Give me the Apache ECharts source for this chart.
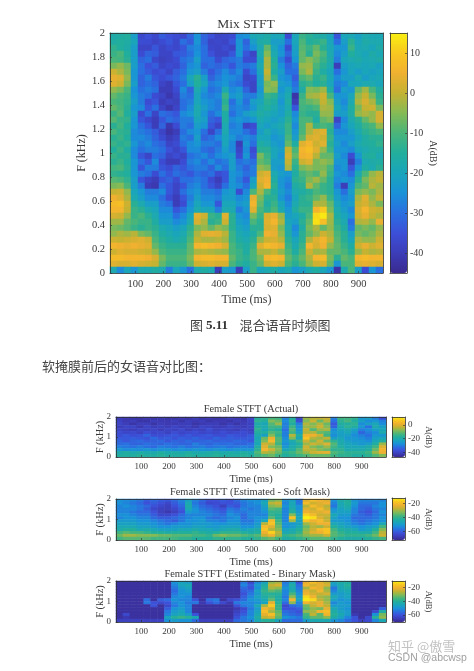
<!DOCTYPE html>
<html lang="zh-CN" style="height: 100%">
<head>
  <meta charset="utf-8">
</head>
<body style="height: 100%; margin: 0; background: #fff">
  <div id="container" style="width: 474px; height: 671px; filter: blur(0.4px)"></div>
  <script type="text/javascript" src="https://cdn.jsdelivr.net/npm/echarts@6/dist/echarts.min.js"></script>
  <script type="text/javascript">

    // time bins (start of each 25 ms frame)
    var timeBins = [9,34,59,84,109,134,159,184,209,234,259,284,309,334,359,384,409,434,459,484,509,534,559,584,609,634,659,684,709,734,759,784,809,834,859,884,909,934,959];
    var timeTicks = [100,200,300,400,500,600,700,800,900];

    var mixBarTicks = [-40,-30,-20,-10,0,10];
    var actualBarTicks = [-40,-20,0];
    var softBarTicks = [-60,-40,-20];
    var binaryBarTicks = [-60,-40,-20];

    // all matrices are in dB, top row = highest frequency
    var mixValues = [
      [-17,-16,-15,-22,-37,-35,-37,-33,-35,-36,-37,-32,-25,-32,-35,-38,-37,-36,-26,-25,-19,-18,-17,-20,-19,-36,-20,-12,-14,-16,-17,-20,-34,-20,-19,-21,-18,-19,-19],
      [-16,-15,-16,-20,-36,-36,-38,-36,-34,-37,-30,-33,-24,-32,-38,-37,-38,-34,-24,-32,-22,-17,-16,-22,-22,-30,-20,-10,-15,-14,-12,-20,-30,-22,-14,-20,-17,-18,-18],
      [-13,-15,-17,-22,-38,-38,-34,-38,-36,-37,-34,-28,-26,-30,-37,-38,-36,-38,-24,-30,-25,-19,-8,-20,-25,-36,-21,-9,-12,-8,-14,-19,-24,-24,-12,-19,-18,-20,-17],
      [-12,-10,-15,-22,-36,-32,-33,-38,-38,-34,-33,-30,-25,-30,-35,-38,-38,-34,-24,-34,-38,-18,-5,-18,-24,-32,-22,-8,-14,-6,-10,-18,-26,-22,-15,-18,-20,-17,-19],
      [-10,-11,-14,-22,-32,-30,-37,-39,-38,-36,-30,-28,-22,-30,-30,-36,-32,-30,-28,-36,-36,-20,-2,-15,-28,-36,-24,-8,-5,-8,-12,-17,-28,-20,-18,-17,-19,-18,-17],
      [-6,-4,-7,-22,-30,-35,-33,-38,-36,-37,-32,-26,-24,-32,-30,-32,-30,-34,-28,-30,-28,-18,-2,-14,-25,-32,-28,-4,-3,-10,-14,-18,-40,-22,-20,-19,-20,-19,-21],
      [1,-2,-6,-24,-30,-33,-36,-35,-38,-33,-30,-24,-22,-28,-34,-30,-26,-30,-26,-36,-30,-20,0,-16,-22,-30,-30,-6,-2,-12,-16,-20,-30,-24,-20,-22,-20,-21,-20],
      [4,3,-4,-24,-32,-28,-34,-36,-34,-32,-28,-20,-14,-22,-32,-28,-25,-26,-28,-38,-36,-22,-2,-12,-24,-26,-33,-10,-8,-14,-12,-19,-26,-22,-22,-18,-22,-20,-19],
      [3,1,-6,-22,-32,-30,-32,-38,-40,-34,-30,-22,-15,-20,-28,-26,-24,-28,-30,-36,-38,-22,-6,-4,-22,-24,-30,-14,-12,-15,-14,-20,-28,-26,-20,-20,-18,-18,-20],
      [-4,-6,-10,-25,-30,-28,-30,-40,-40,-36,-26,-32,-18,-24,-30,-28,-18,-26,-24,-32,-38,-24,-5,-6,-24,-20,-28,-16,-5,-6,-3,-16,-30,-22,-24,-8,-3,-10,-16],
      [-8,-10,-12,-24,-28,-30,-36,-38,-41,-38,-28,-30,-20,-26,-28,-26,-12,-24,-22,-28,-28,-22,-12,-14,-22,-18,-42,-12,-3,-2,1,-10,-24,-24,-20,-4,0,-6,-14],
      [-10,-11,-13,-22,-28,-36,-34,-40,-38,-39,-30,-28,-20,-24,-26,-28,-14,-30,-24,-30,-22,-20,-14,-16,-24,-16,-40,-10,-8,-6,0,-5,-22,-26,-18,-2,2,-2,-12],
      [-8,-10,-14,-24,-26,-34,-30,-38,-41,-38,-30,-26,-18,-22,-26,-28,-12,-28,-26,-28,-24,-18,-15,-18,-22,-18,-34,-11,-12,-10,-2,-3,-20,-24,-16,-6,0,1,-6],
      [-12,-9,-15,-22,-36,-30,-38,-30,-32,-34,-26,-24,-18,-24,-30,-26,-16,-30,-26,-22,-20,-16,-18,-20,-22,-16,-26,-12,-14,-14,-4,-4,-22,-22,-16,-4,-2,-4,2],
      [-9,-12,-13,-24,-34,-37,-40,-34,-30,-32,-28,-28,-20,-22,-32,-34,-16,-26,-24,-26,-24,-18,-20,-22,-20,-14,-24,-10,-10,-16,-8,-6,-38,-26,-18,-14,-8,-4,2],
      [-14,-11,-15,-24,-30,-34,-40,-32,-41,-36,-28,-30,-22,-24,-34,-38,-18,-28,-26,-38,-36,-20,-22,-20,-18,-12,-26,-10,-2,-12,-10,-12,-32,-24,-20,-16,-12,-10,-4],
      [-10,-13,-14,-26,-28,-30,-33,-38,-42,-40,-30,-26,-24,-30,-38,-30,-18,-26,-26,-30,-34,-22,-18,-22,-20,-12,-24,-10,-2,2,3,-14,-26,-26,-22,-18,-14,-12,-10],
      [-14,-12,-15,-26,-26,-28,-32,-36,-40,-38,-28,-30,-22,-32,-30,-26,-20,-24,-28,-26,-28,-20,-20,-24,-22,-10,-22,-8,2,3,1,-12,-24,-24,-24,-20,-16,-14,-14],
      [-12,-14,-13,-24,-28,-26,-30,-32,-38,-36,-30,-26,-24,-28,-28,-30,-20,-26,-40,-24,-30,-16,-18,-22,-24,-8,-16,3,6,1,3,-14,-22,-26,-22,-18,-16,-15,-13],
      [-15,-12,-16,-26,-30,-28,-28,-30,-35,-38,-34,-26,-26,-30,-32,-28,-22,-26,-38,-26,-36,-14,-14,-20,-22,0,-10,6,8,3,-4,-12,-24,-24,-26,-20,-18,-16,-16],
      [-12,-14,-14,-26,-34,-38,-30,-32,-38,-36,-38,-30,-28,-26,-30,-26,-24,-22,-36,-24,-34,-6,-12,-20,-24,2,-8,5,6,-1,-8,-8,-22,-26,-36,-24,-16,-15,-18],
      [-14,-12,-15,-24,-30,-34,-26,-36,-40,-40,-36,-28,-26,-30,-26,-30,-28,-22,-30,-28,-30,-8,-10,-22,-22,0,-12,1,3,-6,-4,-6,-24,-24,-40,-28,-18,-17,-16],
      [-11,-10,-14,-24,-34,-28,-28,-34,-36,-32,-34,-30,-28,-28,-32,-26,-30,-22,-28,-32,-28,-4,-6,-22,-24,-2,-14,-6,-4,-6,-6,-10,-26,-24,-34,-24,-16,-18,-14],
      [-13,-14,-15,-24,-28,-30,-36,-30,-34,-30,-32,-34,-30,-32,-30,-36,-34,-24,-26,-30,-28,1,3,-18,-22,-24,-16,-10,-8,-10,-4,-12,-24,-26,-30,-18,-10,-4,-1],
      [-9,-10,-13,-22,-34,-38,-40,-34,-32,-36,-30,-30,-28,-30,-36,-40,-34,-24,-28,-34,-22,3,5,-16,-24,-26,-14,-12,-6,-3,-8,-14,-26,-24,-26,-14,-6,-2,0],
      [-6,-5,-10,-22,-28,-40,-41,-30,-34,-38,-34,-28,-26,-30,-34,-38,-30,-24,-26,-30,-20,1,6,-14,-24,-28,-16,-14,-2,-8,-12,-14,-28,-40,-24,-10,-8,-1,-3],
      [0,1,-4,-20,-24,-28,-28,-26,-34,-38,-30,-26,-24,-28,-28,-30,-24,-22,-36,-26,-10,-2,-10,-16,-22,-26,-18,-16,-14,-10,-12,-14,-24,-30,-22,-6,-4,-6,-2],
      [5,3,-2,-18,-22,-26,-26,-30,-36,-40,-34,-28,-22,-26,-26,-28,-22,-22,-26,-24,4,-6,-14,-14,-24,-28,-20,-14,-12,-8,-4,-12,-22,-26,-24,-2,3,-4,0],
      [7,8,1,-14,-18,-22,-22,-28,-30,-40,-36,-26,-20,-24,-24,-34,-20,-20,-24,-22,6,-8,-16,-12,-20,-26,-18,-14,-14,-2,-2,-8,-20,-24,-22,0,2,-2,-6],
      [6,6,0,-12,-14,-18,-20,-26,-26,-34,-30,-24,-18,-20,-20,-28,-18,-18,-28,-24,3,-10,-14,-10,-18,-24,-16,-12,-12,6,10,-6,-18,-22,-26,2,6,1,0],
      [2,1,-4,-12,-10,-14,-18,-24,-24,-30,-26,-20,3,1,-12,-14,3,-14,-24,-26,-6,-12,2,4,-4,-22,-20,-16,-10,12,14,-2,-16,-20,-24,1,4,0,-2],
      [-3,-3,-8,-10,-12,-12,-16,-22,-22,-26,-24,-18,2,-2,-14,-12,1,-14,-22,-24,-10,-14,3,6,-2,-20,-22,-14,-8,13,8,-3,-14,-18,-30,-2,-1,-4,4],
      [-6,-7,-9,-12,-14,-12,-14,-18,-20,-22,-20,-14,-6,-4,-8,-4,-6,-14,-20,-22,-14,-14,2,3,-6,-18,-26,-16,-6,-2,-8,-4,-12,-16,-28,-8,-6,-8,-4],
      [-4,-2,-3,-1,-6,-8,-12,-16,-18,-20,-18,-12,-2,3,4,3,-1,-12,-18,-20,-16,-10,5,4,-4,-16,-24,-14,-8,-4,1,-2,-10,-14,-22,-6,-8,-6,-2],
      [1,0,1,2,3,1,-10,-14,-16,-18,-16,-10,0,-2,-2,-1,-3,-12,-16,-18,-14,-4,1,2,-1,-14,-20,-14,-2,3,6,0,-9,-14,-20,-2,-4,-4,1],
      [6,5,4,5,4,3,-8,-12,-14,-14,-14,-8,6,7,6,5,2,-10,-14,-16,-12,3,7,6,4,-12,-18,-12,6,2,5,-4,-8,-12,-16,1,4,1,3],
      [1,3,2,2,1,0,-4,-10,-12,-12,-12,-8,-2,-1,-2,-3,-4,-10,-12,-16,-10,-2,-2,0,-4,-10,-16,-10,1,-3,-2,-8,-8,-10,-14,-4,0,-2,-1],
      [7,7,6,6,6,5,2,-6,-10,-10,-10,-6,6,7,7,6,6,-8,-12,-14,-10,-6,6,7,6,-8,-12,-8,-2,6,7,-6,-14,-8,-10,6,7,6,6],
      [3,2,2,3,2,1,0,-8,-12,-12,-12,-8,1,2,3,2,2,-10,-14,-16,-12,-8,1,3,1,-10,-14,-10,-4,1,2,-8,-24,-10,-10,3,4,3,2],
      [-18,-26,-20,-24,-18,-18,-16,-18,-28,-20,-24,-30,-18,-16,-18,-40,-22,-24,-40,-22,-12,-20,-18,-16,-20,-18,-24,-22,-18,-16,-20,-24,-42,-18,-10,-22,-36,-24,-30]
    ];

    var actualValues = [
      [-42,-43,-44,-44,-43,-44,-43,-44,-44,-43,-44,-42,-44,-43,-44,-44,-42,-43,-44,-40,-18,-16,-13,-14,-30,-18,-40,-6,-4,-3,-2,-30,-14,-14,-16,-26,-24,-30,-38],
      [-41,-43,-42,-44,-44,-42,-43,-43,-42,-44,-42,-43,-42,-44,-43,-43,-44,-42,-43,-40,-16,-18,-8,-10,-28,-16,-38,-8,-2,-10,-4,-32,-16,-13,-18,-24,-28,-26,-30],
      [-40,-42,-44,-42,-42,-44,-42,-43,-43,-42,-42,-44,-43,-42,-42,-44,-42,-44,-42,-41,-20,-22,-12,-6,-30,-18,-30,-4,-8,-4,-10,-36,-18,-18,-16,-28,-24,-22,-28],
      [-42,-40,-40,-43,-40,-42,-41,-42,-40,-42,-41,-43,-40,-41,-42,-42,-40,-41,-42,-40,-18,-20,-14,-14,-30,-14,-28,-6,-6,-2,-8,-34,-20,-16,-18,-26,-32,-20,-24],
      [-40,-41,-42,-40,-41,-40,-42,-40,-41,-39,-42,-40,-41,-38,-41,-40,-41,-42,-40,-41,-16,-22,-16,-18,-32,-12,-26,-3,-12,-6,-5,-28,-22,-20,-24,-30,-28,-24,-22],
      [-38,-40,-39,-41,-38,-40,-39,-41,-38,-40,-39,-38,-40,-39,-40,-38,-40,-39,-38,-40,-18,-18,-12,-14,-30,-14,-24,-4,-4,-10,-12,-26,-24,-22,-26,-34,-30,-28,-20],
      [-38,-36,-38,-37,-34,-38,-38,-37,-36,-38,-36,-38,-37,-36,-38,-38,-36,-37,-38,-36,-20,-24,-8,-16,-30,-4,-18,3,2,-2,-14,-28,-24,-24,-28,-30,-32,-26,-26],
      [-36,-36,-35,-36,-37,-33,-36,-35,-37,-35,-36,-34,-36,-37,-34,-36,-35,-36,-36,-35,-22,-10,2,-12,-28,-8,-22,6,-4,-6,-3,-24,-22,-26,-26,-28,-30,-24,-22],
      [-34,-36,-34,-33,-35,-34,-33,-36,-34,-35,-33,-35,-34,-33,-35,-34,-35,-33,-34,-36,-20,-8,4,-12,-26,-20,-14,-2,-8,-2,-10,-16,-20,-24,-26,-26,-28,-22,-18],
      [-33,-32,-34,-34,-32,-33,-34,-32,-33,-34,-34,-30,-33,-34,-32,-33,-32,-34,-34,-32,-22,-2,-4,-14,-28,-22,-18,-6,-2,-4,0,-12,-20,-22,-24,-26,-24,-18,-6],
      [-30,-31,-32,-30,-32,-33,-30,-31,-32,-30,-32,-31,-30,-32,-31,-30,-32,-31,-30,-31,-18,0,-8,-10,-26,-20,-16,-2,-8,-10,-6,-14,-18,-22,-22,-22,-20,-14,0],
      [-26,-28,-27,-28,-26,-28,-27,-26,-28,-27,-28,-26,-27,-28,-26,-27,-28,-26,-27,-26,-16,3,-2,-8,-22,-18,-12,-3,-4,-8,-10,-16,-16,-20,-20,-20,-18,-10,3],
      [-20,-18,-20,-19,-20,-20,-18,-20,-19,-20,-18,-20,-20,-19,-18,-20,-19,-20,-18,-20,-12,-4,-6,-10,-16,-14,-10,-6,-2,0,1,-12,-14,-16,-16,-16,-14,-6,2],
      [-18,-18,-18,-17,-18,-18,-17,-18,-18,-18,-17,-18,-18,-18,-17,-18,-18,-18,-17,-18,-14,-12,-10,-14,-18,-16,-14,-12,-10,-10,-10,-14,-16,-16,-18,-18,-16,-12,-8]
    ];

    var softValues = [
      [-52,-53,-54,-56,-60,-58,-60,-61,-58,-54,-48,-54,-58,-62,-62,-60,-62,-58,-54,-52,-52,-48,-34,-32,-52,-48,-56,-24,-20,-22,-24,-52,-44,-42,-52,-54,-54,-54,-54],
      [-52,-54,-56,-58,-62,-60,-62,-64,-60,-56,-46,-56,-60,-64,-63,-62,-62,-60,-56,-54,-52,-46,-28,-26,-54,-46,-56,-20,-26,-24,-22,-54,-46,-42,-50,-56,-56,-56,-52],
      [-54,-52,-54,-56,-58,-62,-64,-66,-62,-58,-44,-54,-58,-60,-62,-66,-60,-62,-56,-54,-54,-48,-32,-30,-52,-46,-52,-28,-20,-24,-28,-56,-46,-44,-52,-58,-58,-54,-52],
      [-54,-54,-54,-56,-60,-64,-66,-66,-64,-60,-46,-52,-56,-58,-60,-62,-56,-58,-54,-56,-54,-50,-36,-38,-54,-44,-52,-24,-26,-20,-26,-52,-48,-46,-54,-58,-60,-56,-54],
      [-54,-54,-56,-58,-58,-62,-66,-68,-66,-62,-50,-52,-54,-56,-58,-60,-54,-56,-56,-54,-54,-52,-40,-40,-54,-42,-50,-22,-24,-24,-22,-50,-48,-48,-54,-60,-62,-58,-52],
      [-52,-52,-54,-56,-56,-60,-64,-64,-62,-58,-54,-54,-54,-54,-56,-58,-52,-54,-58,-54,-54,-54,-40,-42,-54,-32,-48,-16,-20,-26,-26,-46,-50,-50,-56,-58,-60,-56,-54],
      [-54,-52,-52,-54,-54,-58,-60,-60,-58,-56,-54,-52,-52,-56,-58,-56,-54,-52,-58,-54,-52,-52,-36,-42,-54,-18,-46,-12,-14,-24,-28,-48,-52,-52,-58,-58,-58,-56,-52],
      [-50,-50,-50,-52,-52,-54,-56,-58,-60,-56,-52,-52,-50,-54,-54,-56,-52,-52,-56,-56,-52,-46,-20,-38,-54,-30,-48,-18,-22,-20,-26,-50,-50,-52,-56,-58,-56,-54,-52],
      [-48,-48,-48,-50,-50,-52,-54,-56,-54,-52,-52,-50,-50,-50,-52,-52,-50,-50,-54,-54,-50,-28,-18,-36,-52,-50,-48,-30,-26,-22,-22,-46,-48,-50,-54,-56,-54,-52,-46],
      [-46,-46,-46,-48,-48,-50,-52,-52,-50,-50,-50,-48,-48,-50,-50,-48,-48,-48,-52,-52,-48,-20,-24,-34,-52,-50,-46,-34,-28,-30,-26,-42,-46,-48,-50,-52,-50,-48,-38],
      [-44,-42,-42,-46,-44,-46,-48,-48,-48,-46,-46,-44,-46,-46,-48,-46,-44,-44,-48,-46,-44,-18,-28,-32,-48,-46,-42,-32,-26,-20,-18,-38,-42,-44,-46,-50,-48,-42,-32],
      [-38,-36,-38,-38,-40,-42,-42,-44,-42,-42,-42,-40,-42,-44,-42,-40,-40,-40,-42,-44,-42,-22,-16,-28,-46,-44,-40,-30,-24,-22,-18,-36,-40,-42,-42,-44,-44,-38,-28],
      [-34,-30,-30,-32,-32,-32,-34,-34,-36,-36,-36,-38,-38,-40,-34,-32,-34,-34,-36,-38,-36,-26,-22,-30,-40,-38,-36,-32,-30,-30,-26,-36,-38,-40,-40,-40,-38,-34,-26],
      [-38,-36,-36,-36,-36,-38,-38,-38,-38,-40,-40,-42,-42,-42,-40,-40,-40,-40,-42,-42,-40,-36,-34,-38,-44,-42,-40,-38,-36,-36,-36,-40,-42,-44,-44,-44,-42,-40,-38]
    ];

    var binaryValues = [
      [-68,-68,-68,-68,-68,-68,-68,-68,-50,-46,-48,-68,-68,-68,-68,-68,-68,-68,-54,-62,-52,-46,-30,-28,-54,-46,-60,-22,-18,-22,-26,-46,-42,-42,-68,-68,-68,-68,-68],
      [-68,-68,-68,-68,-68,-68,-68,-68,-52,-46,-44,-68,-68,-68,-68,-68,-68,-68,-52,-58,-48,-42,-26,-24,-52,-42,-56,-20,-24,-22,-24,-48,-44,-40,-68,-68,-68,-68,-68],
      [-68,-68,-68,-68,-68,-68,-68,-68,-54,-48,-46,-68,-68,-68,-68,-68,-68,-68,-56,-60,-50,-40,-28,-30,-50,-44,-54,-28,-20,-22,-30,-54,-44,-42,-68,-68,-68,-68,-68],
      [-68,-68,-68,-68,-68,-68,-68,-68,-56,-50,-48,-68,-68,-68,-68,-68,-68,-68,-58,-56,-46,-38,-34,-36,-52,-42,-52,-22,-26,-20,-28,-52,-46,-44,-68,-68,-68,-68,-68],
      [-68,-68,-68,-68,-68,-68,-68,-68,-54,-50,-50,-68,-68,-68,-68,-68,-68,-68,-60,-54,-48,-40,-40,-40,-52,-36,-50,-20,-24,-26,-24,-48,-48,-46,-68,-68,-68,-68,-68],
      [-68,-68,-68,-68,-68,-68,-68,-68,-52,-50,-52,-68,-68,-68,-68,-68,-68,-68,-58,-52,-46,-42,-38,-42,-54,-30,-48,-14,-20,-28,-30,-44,-48,-46,-68,-68,-68,-68,-68],
      [-68,-68,-68,-68,-56,-68,-58,-56,-50,-52,-52,-60,-68,-56,-54,-68,-62,-60,-56,-50,-48,-44,-34,-42,-52,-20,-46,-12,-14,-26,-30,-46,-50,-48,-68,-68,-68,-68,-68],
      [-68,-68,-68,-68,-54,-60,-62,-60,-52,-50,-54,-54,-66,-60,-56,-62,-66,-54,-52,-52,-50,-46,-22,-40,-56,-30,-52,-20,-24,-22,-28,-52,-48,-50,-68,-68,-68,-68,-68],
      [-68,-68,-68,-68,-68,-60,-68,-62,-54,-50,-52,-68,-68,-68,-68,-68,-68,-60,-54,-52,-44,-28,-16,-38,-62,-56,-54,-32,-26,-22,-26,-48,-48,-48,-68,-68,-68,-68,-68],
      [-68,-68,-68,-68,-68,-68,-68,-58,-50,-48,-52,-68,-68,-68,-68,-68,-68,-66,-62,-54,-48,-20,-24,-38,-60,-60,-58,-34,-30,-32,-22,-44,-48,-50,-68,-68,-68,-68,-58],
      [-68,-68,-68,-68,-68,-68,-68,-54,-48,-46,-52,-68,-68,-68,-68,-68,-68,-64,-60,-52,-46,-18,-28,-34,-56,-58,-60,-30,-28,-20,-18,-42,-46,-48,-68,-68,-68,-62,-42],
      [-68,-62,-68,-68,-68,-68,-68,-52,-46,-44,-48,-60,-68,-68,-68,-68,-68,-62,-58,-52,-44,-22,-18,-32,-54,-56,-58,-36,-26,-34,-20,-40,-44,-48,-66,-68,-68,-50,-32],
      [-68,-66,-68,-68,-68,-68,-68,-46,-40,-38,-40,-44,-68,-68,-68,-68,-68,-60,-54,-50,-42,-26,-24,-34,-50,-52,-54,-38,-34,-34,-30,-42,-46,-52,-60,-68,-62,-40,-30],
      [-64,-64,-64,-64,-64,-64,-64,-50,-48,-50,-50,-56,-64,-64,-64,-64,-64,-56,-54,-52,-44,-40,-40,-46,-56,-56,-56,-48,-44,-44,-44,-50,-52,-56,-60,-64,-62,-52,-44]
    ];

    var parula = ['#3a2a90','#3c3db8','#3c50d8','#2a6fe0','#1a92d8','#1aa5bb','#22ae9c','#4ab57a','#85ba55','#c4b232','#f0b030','#f8c820','#f9f010'];

    var serif = '"Liberation Serif", serif';
    var cjk = '"Noto Sans CJK SC", sans-serif';
    var textColor = '#3a3a3a';
    var lineColor = '#2f2f2f';

    var myChart = echarts.init(document.getElementById('container'), null, { renderer: 'canvas' });

    var option = {
      animation: false,
      backgroundColor: '#fff',
      title: [], grid: [], xAxis: [], yAxis: [], series: [], visualMap: [],
      graphic: { elements: [
        { type: 'text', left: 190, top: 319, style: {
            text: '图 {b|5.11}    混合语音时频图',
            font: '400 13px ' + cjk, fill: '#444',
            rich: { b: { font: 'bold 13px ' + serif, fill: '#333' } } } },
        { type: 'text', left: 42, top: 360, style: { text: '软掩膜前后的女语音对比图：', font: '400 13px ' + cjk, fill: '#444' } },
        { type: 'text', left: 388, top: 640, style: { text: '知乎 @傲雪', font: '400 13px ' + cjk, fill: '#c2c2c2' } },
        { type: 'text', left: 388, top: 653, style: { text: 'CSDN @abcwsp', font: '400 10.5px "Liberation Sans", sans-serif', fill: '#a0a0a0' } }
      ] }
    };

    function addPanel(p) {
      var g = option.grid.length;
      var height = p.bottom - p.top;
      var font = { fontFamily: serif, color: textColor };
      var catLine = { show: true, onZero: false, lineStyle: { color: lineColor, width: 0.8 } };

      option.title.push({
        text: p.title, left: p.titleX, top: p.titleY, textAlign: 'center', textVerticalAlign: 'middle',
        padding: 0,
        textStyle: { fontFamily: serif, fontWeight: 'normal', fontSize: p.titleSize, color: textColor }
      });

      // heatmap grid
      option.grid.push({ left: p.left, top: p.top, width: p.right - p.left, height: height });
      var rowBins = p.rows.map(function (r, i) { return i; });
      option.xAxis.push({
        gridIndex: g, type: 'category', data: timeBins, position: 'top', z: 3,
        axisLine: catLine, axisTick: { show: false }, axisLabel: { show: false }, splitLine: { show: false }
      });
      option.xAxis.push({
        gridIndex: g, type: 'value', position: 'bottom', min: p.tMin, max: p.tMax, z: 3,
        name: 'Time (ms)', nameLocation: 'middle', nameGap: p.xNameGap,
        nameTextStyle: Object.assign({ fontSize: p.nameSize }, font),
        axisLine: catLine, splitLine: { show: false },
        axisTick: { inside: true, length: 2, customValues: timeTicks, lineStyle: { color: lineColor, width: 0.6 } },
        axisLabel: Object.assign({ fontSize: p.tickSize, margin: p.xMargin, customValues: timeTicks }, font)
      });
      option.yAxis.push({
        gridIndex: g, type: 'category', data: rowBins, position: 'right', z: 3,
        axisLine: catLine, axisTick: { show: false }, axisLabel: { show: false }, splitLine: { show: false }
      });
      option.yAxis.push({
        gridIndex: g, type: 'value', position: 'left', min: 0, max: 2, interval: p.fStep, z: 3,
        name: 'F (kHz)', nameLocation: 'middle', nameGap: p.yNameGap, nameMoveOverlap: false,
        nameTextStyle: Object.assign({ fontSize: p.nameSize }, font),
        axisLine: catLine, splitLine: { show: false },
        axisTick: { inside: true, length: 2, lineStyle: { color: lineColor, width: 0.6 } },
        axisLabel: Object.assign({ fontSize: p.tickSize, margin: 5 }, font)
      });

      var cells = [];
      p.rows.forEach(function (row, i) {
        row.forEach(function (v, j) { cells.push([j, p.rows.length - 1 - i, v]); });
      });
      var seriesIndex = option.series.length;
      option.series.push({
        type: 'heatmap', data: cells, silent: true, progressive: 0,
        xAxisIndex: option.xAxis.length - 2, yAxisIndex: option.yAxis.length - 2
      });

      // colour bar: the visualMap draws the ramp, an empty grid on top carries its ticks
      option.visualMap.push({
        type: 'continuous', seriesIndex: seriesIndex, min: p.barMin, max: p.barMax,
        inRange: { color: parula }, calculable: false, realtime: false, hoverLink: false,
        left: p.barLeft, top: p.barTop, itemWidth: p.barRight - p.barLeft, itemHeight: p.barBottom - p.barTop,
        padding: 0, text: null, showLabel: false
      });
      option.grid.push({ left: p.barLeft, top: p.barTop, width: p.barRight - p.barLeft, height: p.barBottom - p.barTop });
      option.xAxis.push({
        gridIndex: g + 1, type: 'value', min: 0, max: 1, position: 'top', z: 5,
        axisLine: catLine, axisTick: { show: false }, axisLabel: { show: false }, splitLine: { show: false }
      });
      option.xAxis.push({
        gridIndex: g + 1, type: 'value', min: 0, max: 1, position: 'bottom', z: 5,
        axisLine: catLine, axisTick: { show: false }, axisLabel: { show: false }, splitLine: { show: false }
      });
      option.yAxis.push({
        gridIndex: g + 1, type: 'value', min: 0, max: 1, position: 'left', z: 5,
        axisLine: catLine, axisTick: { show: false }, axisLabel: { show: false }, splitLine: { show: false }
      });
      option.yAxis.push({
        gridIndex: g + 1, type: 'value', position: 'right', min: p.barMin, max: p.barMax, z: 5,
        name: 'A(dB)', nameLocation: 'middle', nameGap: p.barNameGap, nameRotate: -90,
        nameTextStyle: Object.assign({ fontSize: p.barNameSize }, font),
        axisLine: catLine, splitLine: { show: false },
        axisTick: { inside: true, length: 2, customValues: p.barTicks, lineStyle: { color: lineColor, width: 0.6 } },
        axisLabel: Object.assign({ fontSize: p.barTickSize, margin: 3, customValues: p.barTicks }, font)
      });
    }

    addPanel({
      title: 'Mix STFT', titleX: 246, titleY: 24, titleSize: 13.5, rows: mixValues,
      left: 110, right: 383, top: 33, bottom: 273, tMin: 9, tMax: 987, fStep: 0.2,
      tickSize: 10.5, nameSize: 12, xMargin: 6, xNameGap: 21, yNameGap: 22,
      barMin: -45, barMax: 15, barTicks: mixBarTicks, barLeft: 390, barRight: 407, barTop: 33, barBottom: 273,
      barNameGap: 19, barNameSize: 10, barTickSize: 10
    });
    addPanel({
      title: 'Female STFT (Actual)', titleX: 251, titleY: 409, titleSize: 10.4, rows: actualValues,
      left: 116, right: 386, top: 417, bottom: 457, tMin: 8, tMax: 988, fStep: 1,
      tickSize: 9, nameSize: 10.4, xMargin: 5, xNameGap: 17, yNameGap: 11,
      barMin: -47, barMax: 12, barTicks: actualBarTicks, barLeft: 392, barRight: 405, barTop: 417, barBottom: 457,
      barNameGap: 14, barNameSize: 8.5, barTickSize: 9
    });
    addPanel({
      title: 'Female STFT (Estimated - Soft Mask)', titleX: 250, titleY: 492, titleSize: 10.4, rows: softValues,
      left: 116, right: 386, top: 499, bottom: 540, tMin: 8, tMax: 988, fStep: 1,
      tickSize: 9, nameSize: 10.4, xMargin: 5, xNameGap: 17, yNameGap: 11,
      barMin: -72, barMax: -12, barTicks: softBarTicks, barLeft: 392, barRight: 405, barTop: 498, barBottom: 540,
      barNameGap: 14, barNameSize: 8.5, barTickSize: 9
    });
    addPanel({
      title: 'Female STFT (Estimated - Binary Mask)', titleX: 250, titleY: 574, titleSize: 10.4, rows: binaryValues,
      left: 116, right: 386, top: 581, bottom: 622, tMin: 8, tMax: 988, fStep: 1,
      tickSize: 9, nameSize: 10.4, xMargin: 5, xNameGap: 17, yNameGap: 11,
      barMin: -70, barMax: -11, barTicks: binaryBarTicks, barLeft: 392, barRight: 405, barTop: 581, barBottom: 622,
      barNameGap: 14, barNameSize: 8.5, barTickSize: 9
    });

    myChart.setOption(option);

  </script>
</body>
</html>
